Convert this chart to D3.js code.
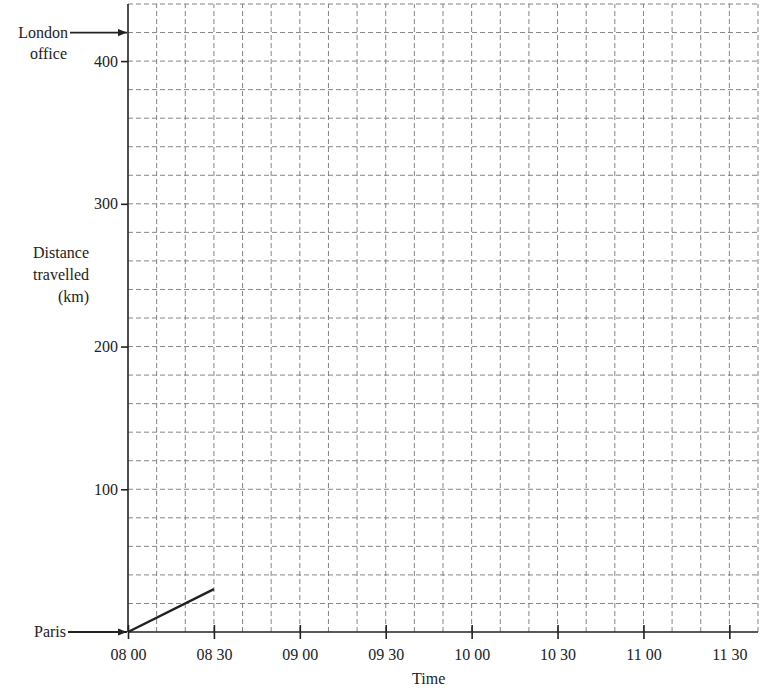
<!DOCTYPE html>
<html><head><meta charset="utf-8">
<script src="https://cdn.jsdelivr.net/npm/d3@7"></script>
<style>body{margin:0;background:#fff} text{font-family:"Liberation Serif","DejaVu Serif","Times New Roman",serif !important}</style>
</head><body>
<svg id="svg" width="768" height="692"></svg>
<script>
const timeTicks = ["08 00", "08 30", "09 00", "09 30", "10 00", "10 30", "11 00", "11 30"];
const distTicks = [100, 200, 300, 400];
const journeyMin = [0, 30];
const journeyKm = [0, 30];
const londonKm = 420;

const svg = d3.select("#svg");
const x = d3.scaleLinear().domain([0, 220]).range([128, 758]);
const y = d3.scaleLinear().domain([0, 440]).range([632, 4]);

const g = svg.append("g");
// dashed grid
d3.range(10, 221, 10).forEach(m => {
  g.append("line").attr("x1", x(m)).attr("x2", x(m)).attr("y1", y(0)).attr("y2", y(440))
    .attr("stroke", "#777").attr("stroke-dasharray", "5,3").attr("stroke-width", 0.9);
});
d3.range(20, 441, 20).forEach(k => {
  g.append("line").attr("x1", x(0)).attr("x2", x(220)).attr("y1", y(k)).attr("y2", y(k))
    .attr("stroke", "#777").attr("stroke-dasharray", "5,3").attr("stroke-width", 0.9);
});

// axes
const xAxis = d3.axisBottom(x).tickValues(d3.range(0, 211, 30))
  .tickFormat((d, i) => timeTicks[i]).tickSize(7).tickSizeOuter(0);
const xa = svg.append("g").attr("transform", `translate(0,${y(0)})`).call(xAxis);
xa.select(".domain").attr("d", `M${x(0)},0H${x(220)}`);
xa.selectAll("line").attr("y1", -7).attr("y2", 7);

const yAxis = d3.axisLeft(y).tickValues(distTicks).tickSize(7).tickSizeOuter(0);
const ya = svg.append("g").attr("transform", `translate(${x(0)},0)`).call(yAxis);
ya.select(".domain").attr("d", `M0,${y(0)}V${y(440)}`);

[xa, ya].forEach(a => {
  a.selectAll("path,line").attr("stroke", "#222").attr("stroke-width", 1.6);
  a.selectAll("text").attr("font-size", 16).attr("fill", "#222");
});
xa.selectAll("text").attr("dy", "1.1em");

// journey line
svg.append("path")
  .attr("d", d3.line().x((d, i) => x(journeyMin[i])).y(d => y(d))(journeyKm))
  .attr("fill", "none").attr("stroke", "#222").attr("stroke-width", 2.5);

// arrows
svg.append("defs").append("marker").attr("id", "arr").attr("viewBox", "0 0 10 10")
  .attr("refX", 10).attr("refY", 5).attr("markerWidth", 5).attr("markerHeight", 5)
  .attr("orient", "auto").append("path").attr("d", "M0,1L10,5L0,9Z").attr("fill", "#222");
[[0, 68], [londonKm, 70]].forEach(([k, x0]) => {
  svg.append("line").attr("x1", x0).attr("x2", x(0) - 1).attr("y1", y(k)).attr("y2", y(k))
    .attr("stroke", "#222").attr("stroke-width", 1.8).attr("marker-end", "url(#arr)");
});

const txt = (s, tx, ty, anchor) => svg.append("text").attr("x", tx).attr("y", ty)
  .attr("text-anchor", anchor).attr("font-size", 16)
  .attr("fill", "#222").text(s);
txt("Paris", 66, y(0) + 5, "end");
txt("London", 68, y(londonKm) + 5, "end");
txt("office", 67, y(londonKm) + 26, "end");
txt("Distance", 89, 258, "end");
txt("travelled", 89, 280, "end");
txt("(km)", 89, 302, "end");
txt("Time", x(105), 684, "middle");
</script>
</body></html>
